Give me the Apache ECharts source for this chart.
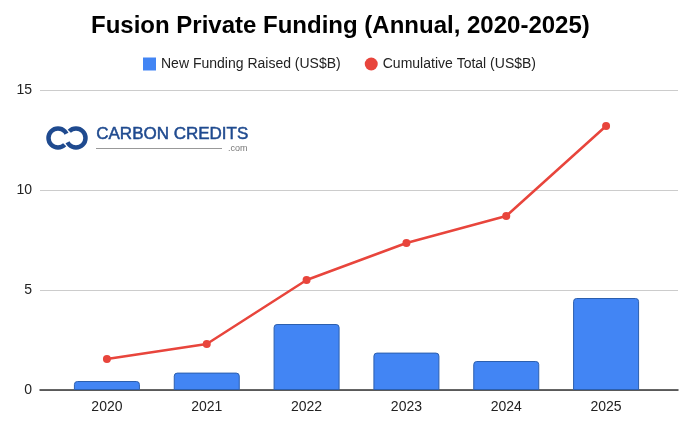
<!DOCTYPE html>
<html>
<head>
<meta charset="utf-8">
<script src="https://cdn.jsdelivr.net/npm/echarts@6/dist/echarts.min.js"></script>
<style>
  html, body { margin: 0; padding: 0; background: #fff; }
  #chart { width: 696px; height: 427px; }
</style>
</head>
<body>
<div id="chart"></div>
<script>
// Données
const years = ['2020', '2021', '2022', '2023', '2024', '2025'];
const newFunding = [0.45, 0.87, 3.3, 1.87, 1.45, 4.6];
const cumulative = [1.55, 2.3, 5.5, 7.35, 8.7, 13.2];
const yTicks = [0, 5, 10, 15];

const font = '"Liberation Sans", Arial, sans-serif';
const navy = '#1f4a8f';

const chart = echarts.init(document.getElementById('chart'));

const option = {
  backgroundColor: '#fff',
  animation: false,
  textStyle: { fontFamily: font },

  title: {
    text: 'Fusion Private Funding (Annual, 2020-2025)',
    left: 86,
    top: 9,
    textStyle: { fontFamily: font, fontSize: 24, fontWeight: 'bold', color: '#000' }
  },

  legend: {
    top: 52,
    left: 138,
    itemGap: 24,
    itemWidth: 13,
    itemHeight: 13,
    textStyle: { fontFamily: font, fontSize: 14, color: '#222' },
    data: [
      { name: 'New Funding Raised (US$B)', icon: 'rect', itemStyle: { borderWidth: 0 } },
      { name: 'Cumulative Total (US$B)', icon: 'circle' }
    ]
  },

  // grille 0 : lignes de repère, grille 1 : les séries
  grid: [
    { left: 40, right: 18, top: 90, bottom: 37 },
    { left: 57, right: 40, top: 90, bottom: 37 }
  ],

  xAxis: [
    {
      type: 'category',
      gridIndex: 0,
      data: years,
      axisLine: { lineStyle: { color: '#333', width: 1.5 } },
      axisTick: { show: false },
      axisLabel: { show: false }
    },
    {
      type: 'category',
      gridIndex: 1,
      data: years,
      axisLine: { show: false },
      axisTick: { show: false },
      axisLabel: { fontFamily: font, fontSize: 14, color: '#222', margin: 10 }
    }
  ],

  yAxis: [
    {
      type: 'value',
      gridIndex: 0,
      min: yTicks[0],
      max: yTicks[yTicks.length - 1],
      interval: 5,
      axisLine: { show: false },
      axisTick: { show: false },
      axisLabel: { fontFamily: font, fontSize: 14, color: '#222', margin: 8 },
      splitLine: { lineStyle: { color: '#ccc' } }
    },
    {
      type: 'value',
      gridIndex: 1,
      min: yTicks[0],
      max: yTicks[yTicks.length - 1],
      interval: 5,
      show: false,
      splitLine: { show: false }
    }
  ],

  series: [
    {
      name: 'New Funding Raised (US$B)',
      type: 'bar',
      xAxisIndex: 1,
      yAxisIndex: 1,
      data: newFunding,
      barWidth: 66,
      itemStyle: {
        color: '#4285f4',
        borderColor: '#2c5fae',
        borderWidth: 1,
        borderRadius: [3, 3, 0, 0]
      }
    },
    {
      name: 'Cumulative Total (US$B)',
      type: 'line',
      xAxisIndex: 1,
      yAxisIndex: 1,
      data: cumulative,
      symbol: 'circle',
      symbolSize: 8,
      itemStyle: { color: '#e8453c' },
      lineStyle: { color: '#e8453c', width: 2.5 },
      z: 5
    }
  ],

  // logo Carbon Credits
  graphic: [
    {
      type: 'arc',
      shape: { cx: 58, cy: 138, r: 9.5, startAngle: Math.PI * 0.25, endAngle: Math.PI * 1.85 },
      style: { stroke: navy, lineWidth: 4.5, fill: null }
    },
    {
      type: 'arc',
      shape: { cx: 76, cy: 138, r: 9.5, startAngle: Math.PI * 1.25, endAngle: Math.PI * 0.85 },
      style: { stroke: navy, lineWidth: 4.5, fill: null }
    },
    {
      type: 'text',
      left: 96,
      top: 126,
      style: {
        text: 'CARBON CREDITS',
        fill: navy,
        stroke: navy,
        lineWidth: 0.5,
        font: '17px "Liberation Sans", Arial, sans-serif'
      }
    },
    {
      type: 'line',
      shape: { x1: 96, y1: 148.5, x2: 222, y2: 148.5 },
      style: { stroke: '#999', lineWidth: 1 }
    },
    {
      type: 'text',
      left: 228,
      top: 144,
      style: { text: '.com', fill: '#777', font: '9px "Liberation Sans", Arial, sans-serif' }
    }
  ]
};

chart.setOption(option);
</script>
</body>
</html>
